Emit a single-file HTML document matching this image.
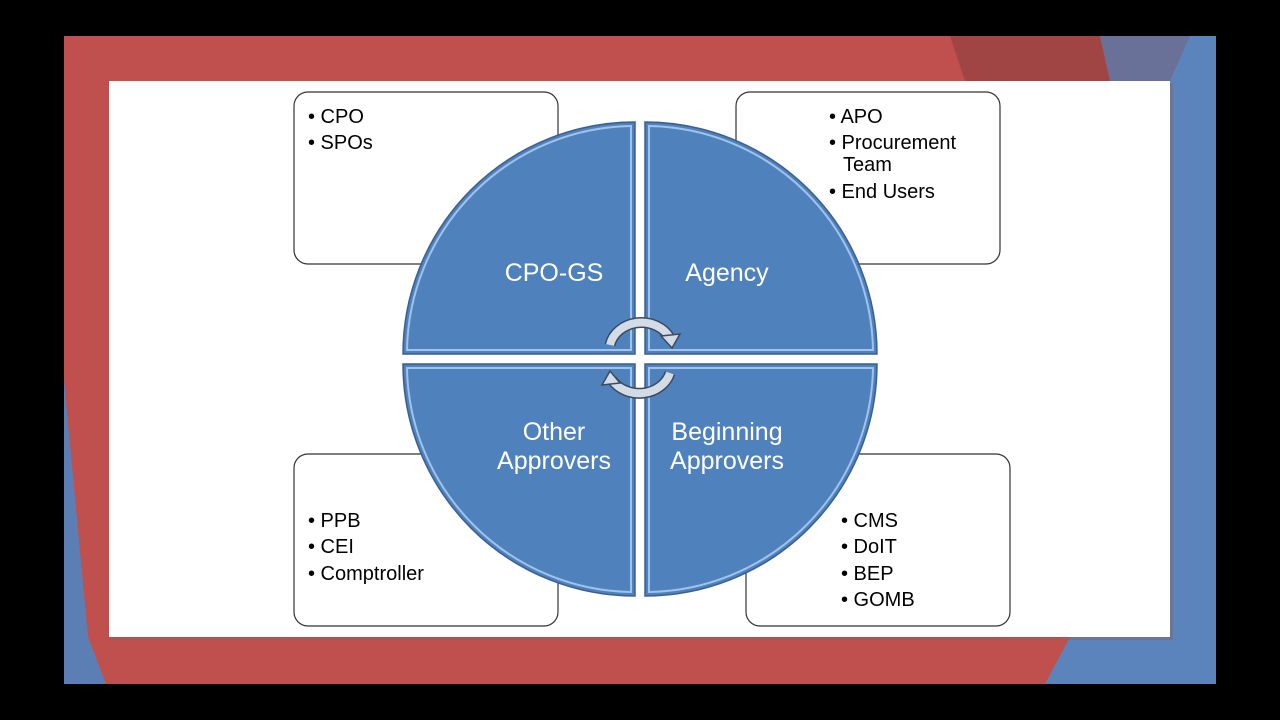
<!DOCTYPE html>
<html><head><meta charset="utf-8"><style>
html,body{margin:0;padding:0;background:#000;}
body{width:1280px;height:720px;overflow:hidden;font-family:"Liberation Sans","DejaVu Sans",sans-serif;}
</style></head><body>
<svg width="1280" height="720" viewBox="0 0 1280 720" xmlns="http://www.w3.org/2000/svg" style="display:block">
<rect width="1280" height="720" fill="#000"/>
<rect x="64" y="36" width="1152" height="648" fill="#c0504d"/>
<polygon points="950,36 1100,36 1110,81 965,81" fill="#a04444"/>
<polygon points="1100,36 1190,36 1170,81 1110,81" fill="#6a7199"/>
<polygon points="1190,36 1216,36 1216,684 1045,684 1070,637 1170,637 1170,81" fill="#5b84bd"/>
<polygon points="64,380 64,684 106,684 88,637" fill="#5b7fb5"/>
<rect x="112" y="84" width="1061" height="556" fill="#8a6060" opacity="0.4"/>
<rect x="109" y="81" width="1061" height="556" fill="#fff"/>
<g fill="#fff" stroke="#333" stroke-width="1.2">
<rect x="294" y="92" width="264" height="172" rx="14"/>
<rect x="736" y="92" width="264" height="172" rx="14"/>
<rect x="294" y="454" width="264" height="172" rx="14"/>
<rect x="746" y="454" width="264" height="172" rx="14"/>
</g>
<g font-size="20" fill="#000">
<text x="308" y="123">• CPO</text><text x="308" y="149">• SPOs</text>
<text x="829" y="123">• APO</text><text x="829" y="149">• Procurement</text><text x="843" y="171">Team</text><text x="829" y="198">• End Users</text>
<text x="308" y="527">• PPB</text><text x="308" y="553">• CEI</text><text x="308" y="580">• Comptroller</text>
<text x="841" y="527">• CMS</text><text x="841" y="553">• DoIT</text><text x="841" y="580">• BEP</text><text x="841" y="606">• GOMB</text>
</g>
<g fill="#4f81bd" stroke="#3a5f8f" stroke-width="1.5">
<path d="M635,354 L403,354 A232,232 0 0 1 635,122 Z"/>
<path d="M645,354 L645,122 A232,232 0 0 1 877,354 Z"/>
<path d="M635,364 L635,596 A232,232 0 0 1 403,364 Z"/>
<path d="M645,364 L877,364 A232,232 0 0 1 645,596 Z"/>
</g>
<g fill="none" stroke="#9fc3ea" stroke-width="2">
<path d="M631,350 L407,350 A228,228 0 0 1 631,126 Z"/>
<path d="M649,350 L649,126 A228,228 0 0 1 873,350 Z"/>
<path d="M631,368 L631,592 A228,228 0 0 1 407,368 Z"/>
<path d="M649,368 L873,368 A228,228 0 0 1 649,592 Z"/>
</g>
<g fill="#fff" font-size="25" text-anchor="middle">
<text x="554" y="281">CPO-GS</text>
<text x="727" y="281">Agency</text>
<text x="554" y="440">Other</text><text x="554" y="469">Approvers</text>
<text x="727" y="440">Beginning</text><text x="727" y="469">Approvers</text>
</g>
<g stroke="#3b4a5e" stroke-width="11" fill="none" stroke-linecap="butt">
<path d="M610,345 A32,28 0 0 1 670,338"/>
<path d="M670,373 A32,28 0 0 1 612,380"/>
</g>
<g stroke="#d3dbe6" stroke-width="8" fill="none">
<path d="M610,345 A32,28 0 0 1 670,338"/>
<path d="M670,373 A32,28 0 0 1 612,380"/>
</g>
<polygon points="661,336 680,334 672,348" fill="#d3dbe6" stroke="#3b4a5e" stroke-width="1.5"/>
<polygon points="620,383 602,385 610,371" fill="#d3dbe6" stroke="#3b4a5e" stroke-width="1.5"/>
</svg>
</body></html>
